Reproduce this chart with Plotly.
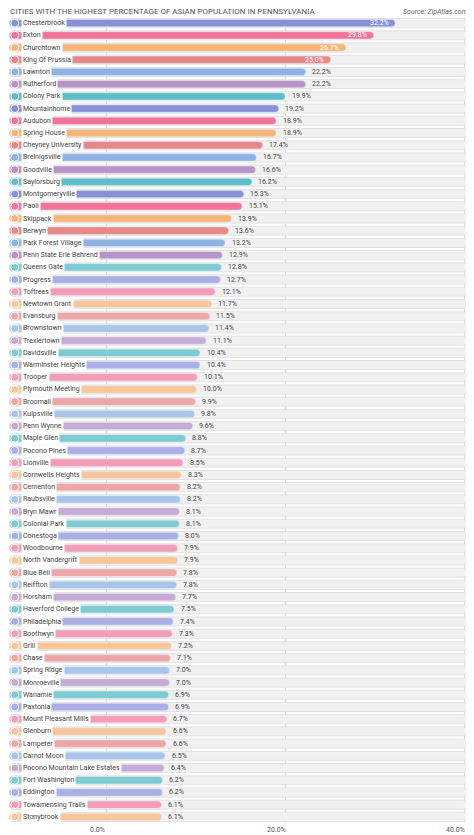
import plotly.graph_objects as go

cities = ["Chesterbrook","Exton","Churchtown","King Of Prussia","Lawnton","Rutherford","Colony Park","Mountainhome","Audubon","Spring House","Cheyney University","Breinigsville","Goodville","Saylorsburg","Montgomeryville","Paoli","Skippack","Berwyn","Park Forest Village","Penn State Erie Behrend","Queens Gate","Progress","Toftrees","Newtown Grant","Evansburg","Brownstown","Trexlertown","Davidsville","Warminster Heights","Trooper","Plymouth Meeting","Broomall","Kulpsville","Penn Wynne","Maple Glen","Pocono Pines","Lionville","Cornwells Heights","Cementon","Raubsville","Bryn Mawr","Colonial Park","Conestoga","Woodbourne","North Vandergrift","Blue Bell","Reiffton","Horsham","Haverford College","Philadelphia","Boothwyn","Grill","Chase","Spring Ridge","Monroeville","Wanamie","Paxtonia","Mount Pleasant Mills","Glenburn","Lampeter","Carnot Moon","Pocono Mountain Lake Estates","Fort Washington","Eddington","Towamensing Trails","Stonybrook"]
values = [32.2,29.8,26.7,25.0,22.2,22.2,19.9,19.2,18.9,18.9,17.4,16.7,16.6,16.2,15.3,15.1,13.9,13.6,13.2,12.9,12.8,12.7,12.1,11.7,11.5,11.4,11.1,10.4,10.4,10.1,10.0,9.9,9.8,9.6,8.8,8.7,8.5,8.3,8.2,8.2,8.1,8.1,8.0,7.9,7.9,7.8,7.8,7.7,7.5,7.4,7.3,7.2,7.1,7.0,7.0,6.9,6.9,6.7,6.6,6.6,6.5,6.4,6.2,6.2,6.1,6.1]
tick_vals = [0, 20, 40]
tick_text = ["0.0%", "20.0%", "40.0%"]

palette = ["#8890d8", "#f2749a", "#f8b578", "#e8878a", "#8fb2e4", "#b893c6", "#5ebfc8"]
light = ["#aab0e6", "#f49cb8", "#fac699", "#eea6a6", "#a9c5ea", "#c8abd5", "#7ecbd2"]
BASE = -10.9
n = len(cities)
y = list(range(n))
cols = [(palette if i < 20 else light)[i % 7] for i in range(n)]

fig = go.Figure()
fig.add_bar(y=y, x=[40.3 - BASE] * n, base=BASE, orientation="h",
            marker=dict(color="#f1f1f1", line=dict(color="#e2e2e2", width=1), cornerradius=6),
            width=0.74, hoverinfo="skip")
fig.add_bar(y=y, x=[v - BASE for v in values], base=BASE, orientation="h",
            marker=dict(color=cols, cornerradius=6), width=0.6, hoverinfo="skip")
fig.add_scatter(y=y, x=[BASE + 0.6] * n, mode="markers",
                marker=dict(color=cols, size=8, line=dict(color="white", width=1)), hoverinfo="skip")

ann = []
for i, (c, v) in enumerate(zip(cities, values)):
    ann.append(dict(x=BASE + 1.3, y=i, text=c, xanchor="left", showarrow=False,
                    font=dict(size=7, color="#444", family="Roboto"), bgcolor="white",
                    borderpad=1))
    inside = i < 4
    ann.append(dict(x=v - 0.5 if inside else v + 0.5, y=i, text=f"{v:.1f}%",
                    xanchor="right" if inside else "left", showarrow=False,
                    font=dict(size=7, color="white" if inside else "#444", family="Roboto")))
for tv, tt in zip(tick_vals, tick_text):
    ann.append(dict(x=tv, xref="x", yref="paper", y=0, yanchor="top", yshift=-1, xshift=-9,
                    text=tt, showarrow=False, font=dict(size=7, color="#555", family="Roboto")))
ann.append(dict(xref="paper", yref="paper", x=0.0, y=1.0, yanchor="bottom", yshift=-1,
                text="CITIES WITH THE HIGHEST PERCENTAGE OF ASIAN POPULATION IN PENNSYLVANIA",
                showarrow=False, xanchor="left", font=dict(size=8, color="#555", family="Roboto")))
ann.append(dict(xref="paper", yref="paper", x=1.0, y=1.0, yanchor="bottom", yshift=-1,
                text="<i>Source: ZipAtlas.com</i>", showarrow=False, xanchor="right",
                font=dict(size=7, color="#666", family="Roboto")))

fig.update_layout(
    width=462, height=827, margin=dict(l=0, r=0, t=9, b=12),
    paper_bgcolor="white", plot_bgcolor="white", showlegend=False, barmode="overlay",
    annotations=ann,
    xaxis=dict(range=[-11.06, 40.56], tickvals=tick_vals, showticklabels=False,
               showgrid=True, gridcolor="#dddddd", zeroline=False, automargin=False),
    yaxis=dict(range=[n - 0.5, -0.5], showticklabels=False, showgrid=False, zeroline=False,
               automargin=False),
)
fig.write_html("out.html")
